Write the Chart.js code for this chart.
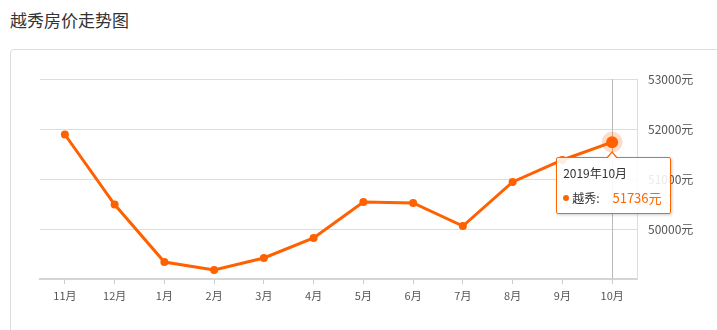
<!DOCTYPE html>
<html>
<head>
<meta charset="utf-8">
<script src="https://cdn.jsdelivr.net/npm/chart.js@4/dist/chart.umd.min.js"></script>
<style>
    body { margin: 0; background: #fff; font-family: "Noto Sans CJK SC", sans-serif; overflow: hidden; }
    .title { position: absolute; left: 10px; top: 7px; font-size: 17px; color: #333; }
    .card { position: absolute; left: 10px; top: 49px; width: 720px; height: 300px; border: 1px solid #ddd; border-radius: 4px; }
    .chart-box { position: absolute; left: 10px; top: 50px; width: 707px; height: 280px; }
    #tip { position: absolute; background: rgba(255,255,255,0.88); border: 1px solid #ff6600; border-radius: 2px; box-shadow: 1px 1px 3px rgba(0,0,0,0.2);
           padding: 6px 8px 6px 6px; font-size: 12px; color: #333; white-space: nowrap; pointer-events: none; opacity: 0; }
    #tip .caret { position: absolute; top: -7px; width: 0; height: 0; border-left: 6px solid transparent; border-right: 6px solid transparent; border-bottom: 7px solid #ff6600; }
    #tip .caret-in { position: absolute; top: -5px; width: 0; height: 0; border-left: 5px solid transparent; border-right: 5px solid transparent; border-bottom: 6px solid #fff; }
    #tip .row { margin-top: 7px; }
    #tip .dot { display: inline-block; width: 6px; height: 6px; border-radius: 3px; background: #ff6600; margin-right: 3px; vertical-align: 2px; }
    #tip .val { color: #ff6600; margin-left: 13px; font-size: 13px; }
</style>
</head>
<body>
<div class="title">越秀房价走势图</div>
<div class="card"></div>
<div class="chart-box">
    <canvas id="price-chart" width="707" height="280"></canvas>
    <div id="tip"></div>
</div>
<script>
let months = ["11月", "12月", "1月", "2月", "3月", "4月", "5月", "6月", "7月", "8月", "9月", "10月"];
let fullDates = ["2018年11月", "2018年12月", "2019年1月", "2019年2月", "2019年3月", "2019年4月",
                 "2019年5月", "2019年6月", "2019年7月", "2019年8月", "2019年9月", "2019年10月"];
let prices = [51890, 50490, 49340, 49180, 49420, 49820, 50540, 50520, 50060, 50940, 51380, 51736];
let areaName = "越秀";
let yMin = 49000;
let yMax = 53000;

let lineColor = "#ff6100";
let tip = document.getElementById("tip");

// vertical line under the hovered point
let crossLine = {
    id: "crossLine",
    beforeDatasetsDraw(chart) {
        let active = chart.getActiveElements();
        if (!active.length) return;
        let x = active[0].element.x;
        let ctx = chart.ctx;
        ctx.save();
        ctx.strokeStyle = "#bbb";
        ctx.lineWidth = 1;
        ctx.beginPath();
        ctx.moveTo(Math.round(x) + 0.5, chart.chartArea.top);
        ctx.lineTo(Math.round(x) + 0.5, chart.chartArea.bottom);
        ctx.stroke();
        ctx.restore();
    }
};

function drawTip(context) {
    let tooltip = context.tooltip;
    if (tooltip.opacity === 0 || !tooltip.dataPoints) {
        tip.style.opacity = 0;
        return;
    }
    let point = tooltip.dataPoints[0];
    tip.innerHTML = '<div class="caret"></div><div class="caret-in"></div>' +
        '<div>' + fullDates[point.dataIndex] + '</div>' +
        '<div class="row"><span class="dot"></span>' + areaName + ':<span class="val">' + prices[point.dataIndex] + '元</span></div>';
    let left = tooltip.caretX - 56;
    tip.style.left = left + "px";
    tip.style.top = (tooltip.caretY + 15) + "px";
    let caretPos = tooltip.caretX - left;
    tip.querySelector(".caret").style.left = (caretPos - 7) + "px";
    tip.querySelector(".caret-in").style.left = (caretPos - 6) + "px";
    tip.style.opacity = 1;
}

let priceChart = new Chart(document.getElementById("price-chart").getContext("2d"), {
    type: "line",
    data: {
        labels: months,
        datasets: [{
            label: areaName,
            data: prices,
            borderColor: lineColor,
            backgroundColor: lineColor,
            borderWidth: 3,
            pointRadius: 4,
            pointBackgroundColor: lineColor,
            pointBorderWidth: 0,
            pointHoverRadius: 6,
            pointHoverBackgroundColor: lineColor,
            pointHoverBorderColor: "rgba(255, 97, 0, 0.22)",
            pointHoverBorderWidth: 9,
            tension: 0
        }]
    },
    options: {
        responsive: false,
        maintainAspectRatio: false,
        animation: false,
        interaction: { mode: "index", intersect: false },
        layout: { padding: { left: 30, top: 29, right: 0, bottom: 0 } },
        plugins: {
            legend: { display: false },
            tooltip: { enabled: false, external: drawTip }
        },
        scales: {
            x: {
                offset: true,
                grid: { offset: false, drawOnChartArea: false, drawTicks: true, tickLength: 5, color: "#ccc" },
                border: { display: true, color: "#d5d5d5", width: 2 },
                ticks: { color: "#555", padding: 5, font: { family: "Noto Sans CJK SC", size: 11 } },
                afterFit(scale) { scale.height = 51; }
            },
            y: {
                position: "right",
                min: yMin,
                max: yMax,
                grid: { color: "#ddd", drawTicks: false },
                border: { display: true, color: "#ddd" },
                ticks: {
                    stepSize: 1000,
                    color: "#555",
                    padding: 11,
                    font: { family: "Noto Sans CJK SC", size: 12 },
                    callback: function(value) {
                        if (value === yMin) return "";
                        return value + "元";
                    }
                },
                afterFit(scale) { scale.width = 80; }
            }
        }
    },
    plugins: [crossLine]
});

let last = [{ datasetIndex: 0, index: prices.length - 1 }];
let lastPoint = priceChart.getDatasetMeta(0).data[prices.length - 1];
priceChart.tooltip.setActiveElements(last, { x: lastPoint.x, y: lastPoint.y });
priceChart.setActiveElements(last);
priceChart.update();
</script>
</body>
</html>
